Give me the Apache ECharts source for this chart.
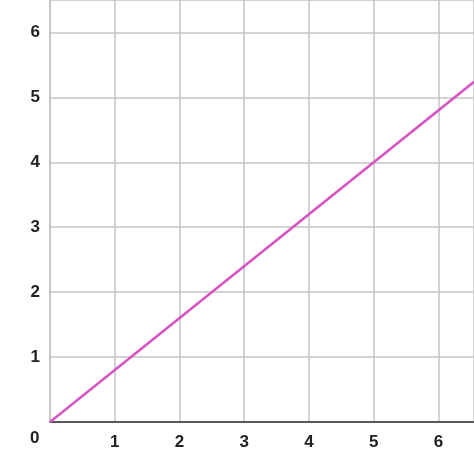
<!DOCTYPE html>
<html>
<head>
<meta charset="utf-8">
<script src="https://cdn.jsdelivr.net/npm/echarts@6/dist/echarts.min.js"></script>
<style>html,body{margin:0;padding:0;background:#fff}#main{width:474px;height:467px}</style>
</head>
<body>
<div id="main"></div>
<script>
// line y = 0.8x
var lineX = [0, 6.55];
var lineY = [0, 5.24];
var xMax = 6.55;
var yMax = 6.5;

var chart = echarts.init(document.getElementById('main'));
var labelStyle = {color: '#222', fontFamily: 'Liberation Sans, Arial', fontWeight: 'bold', fontSize: 17};
chart.setOption({
    animation: false,
    grid: {left: 50, right: 0, top: 0, bottom: 45},
    xAxis: {
        type: 'value', min: 0, max: xMax, interval: 1,
        axisLine: {show: true, onZero: false, lineStyle: {color: '#333', width: 1.5}},
        axisTick: {show: false},
        splitLine: {lineStyle: {color: '#c4c4c4', width: 1.5}},
        axisLabel: Object.assign({margin: 12, showMaxLabel: false,
            formatter: function (v) { return v === 0 ? '' : v; }}, labelStyle)
    },
    yAxis: {
        type: 'value', min: 0, max: yMax, interval: 1,
        axisLine: {show: true, lineStyle: {color: '#c4c4c4', width: 1.5}},
        axisTick: {show: false},
        splitLine: {lineStyle: {color: '#c4c4c4', width: 1.5}},
        axisLabel: Object.assign({margin: 10, showMaxLabel: false,
            formatter: function (v) { return v === 0 ? '' : v; }}, labelStyle)
    },
    graphic: [{
        type: 'text', left: 30, top: 430,
        style: {text: '0', fill: '#222', font: 'bold 17px Liberation Sans, Arial'}
    }],
    series: [{
        type: 'line',
        data: lineX.map(function (x, i) { return [x, lineY[i]]; }),
        showSymbol: false,
        lineStyle: {color: '#d655c2', width: 2.5}
    }]
});
</script>
</body>
</html>
